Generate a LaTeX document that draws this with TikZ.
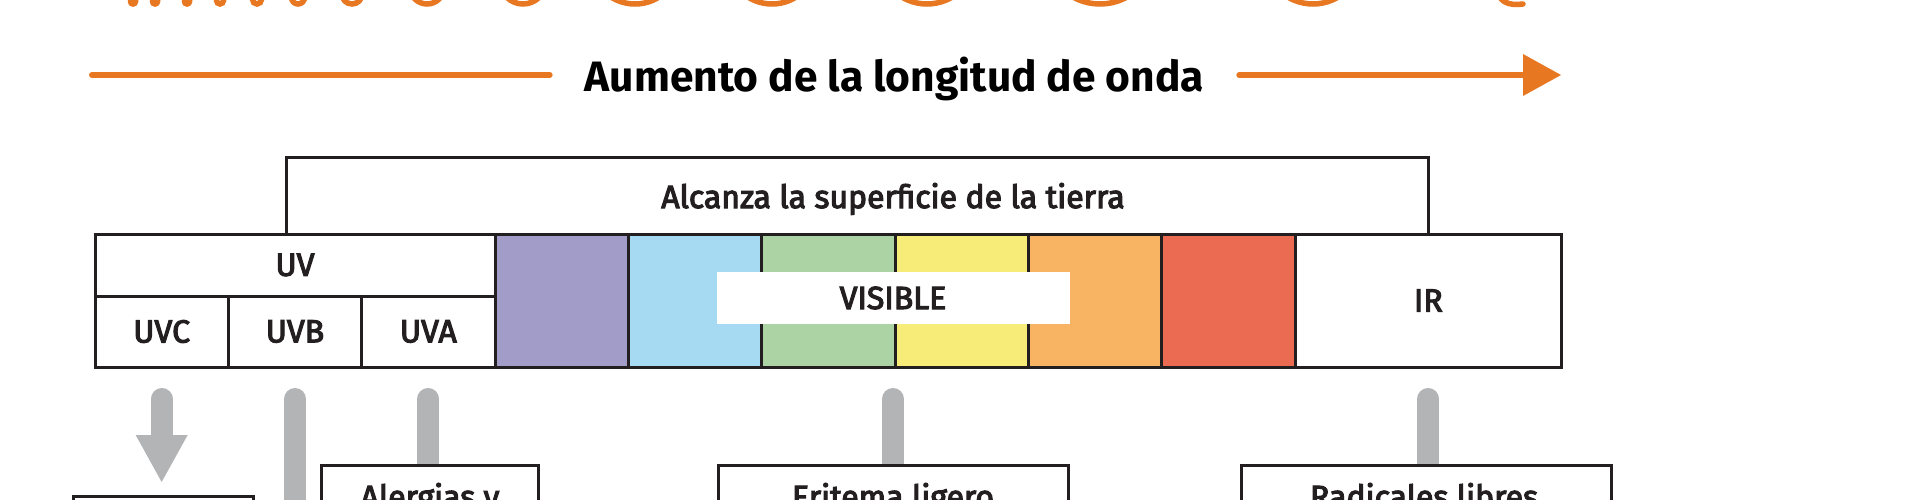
\documentclass[tikz,border=0pt]{standalone}
\usepackage{fontspec}
\setmainfont{Fira Sans}
\newfontfamily\medfont{Fira Sans}[FakeBold=3.5]
\usetikzlibrary{calc}
\definecolor{ink}{HTML}{231F20}
\definecolor{wavecol}{HTML}{E87722}
\definecolor{bargray}{HTML}{B3B4B6}
\definecolor{cviolet}{HTML}{A29CC9}
\definecolor{cblue}{HTML}{A6D9F2}
\definecolor{cgreen}{HTML}{ABD3A3}
\definecolor{cyellow}{HTML}{F8EC78}
\definecolor{corange}{HTML}{F8B363}
\definecolor{cred}{HTML}{EA6A52}
\newcommand\lblfont{\medfont\fontsize{32}{38}\selectfont}
\newcommand\titlefont{\bfseries\fontsize{42.5}{48}\selectfont}
\pgfdeclarelayer{bg}
\pgfsetlayers{bg,main}
\begin{document}
\begin{tikzpicture}[x=1pt,y=-1pt,
  cell/.style={draw=ink, line width=3pt, inner sep=0pt, outer sep=0pt, anchor=north west, font=\lblfont, text=ink},
  box/.style={draw=ink, line width=3pt, fill=white, inner sep=0pt, outer sep=0pt, anchor=north, minimum height=120pt},
  lbl/.style={font=\lblfont, text=ink, anchor=base, inner sep=0pt},
  bar/.style={draw=bargray, line width=22pt, line cap=round},
  oline/.style={draw=wavecol, line width=6pt, line cap=round},
  wave/.style={draw=wavecol, line width=5.5pt, line cap=round}]
\useasboundingbox (0,0) rectangle (1920,500);
\clip (0,0) rectangle (1920,500);

% wave
\foreach \xx/\rr in {133/2.5,155/2.5,187/2.5,220/3.5,257/4.5,298/6.5,352/10,427/17,523/23,635/45,772/45,927/49,1100/56,1313/49}{
  \draw[wave] (\xx+\rr,-30) -- (\xx+\rr,4-\rr) arc[start angle=0,end angle=180,radius=\rr] -- (\xx-\rr,-30);
}
\draw[wave] (1497,-15) .. controls (1497,2) and (1508,6) .. (1523,4);

% title arrow
\node[font=\titlefont, text=black, anchor=base, inner xsep=35pt, inner ysep=0pt] (title) at (894.5,92) {Aumento de la longitud de onda};
\coordinate (aL) at (92,75);
\coordinate (aR) at (1523,75);
\draw[oline] (aL) -- (aL -| title.west);
\draw[oline] (title.east |- aR) -- (aR);
\fill[wavecol] ($(aR)+(0,-21)$) -- ($(aR)+(38,0)$) -- ($(aR)+(0,21)$) -- cycle;

% band
\node[cell, minimum width=400pt, minimum height=62pt] (uv) at (95,234) {UV};
\node[cell, minimum width=133.33pt, minimum height=71pt] (uvc) at (95,296) {UVC};
\node[cell, minimum width=133.33pt, minimum height=71pt] (uvb) at (228.33,296) {UVB};
\node[cell, minimum width=133.33pt, minimum height=71pt] (uva) at (361.67,296) {UVA};
\node[cell, fill=cviolet, minimum width=133.33pt, minimum height=133pt] (c1) at (495,234) {};
\node[cell, fill=cblue, minimum width=133.33pt, minimum height=133pt] (c2) at (628.33,234) {};
\node[cell, fill=cgreen, minimum width=133.33pt, minimum height=133pt] (c3) at (761.67,234) {};
\node[cell, fill=cyellow, minimum width=133.33pt, minimum height=133pt] (c4) at (895,234) {};
\node[cell, fill=corange, minimum width=133.33pt, minimum height=133pt] (c5) at (1028.33,234) {};
\node[cell, fill=cred, minimum width=133.33pt, minimum height=133pt] (c6) at (1161.67,234) {};
\node[cell, minimum width=266.67pt, minimum height=133pt] (ir) at (1295,234) {IR};
\node[fill=white, inner sep=0pt, minimum width=353pt, minimum height=52pt, font=\lblfont, text=ink] (vis) at (893,298) {VISIBLE};

% reach bracket
\coordinate (bl) at (286,158);
\draw[draw=ink, line width=3pt] (bl |- uv.north) -- (bl) -- (bl -| ir.north) -- (ir.north);
\node[lbl] (reach) at (893,208) {Alcanza la superficie de la tierra};

% effect boxes
\node[box, minimum width=180pt] (uvcbox) at (163.5,496) {};
\node[box, minimum width=217pt] (alerg) at (429.5,465) {};
\node[box, minimum width=350pt] (erit) at (893,465) {};
\node[box, minimum width=370pt] (radic) at (1426,465) {};
\node[lbl] (alerglbl) at (430,508) {Alergias y};
\node[lbl] (eritlbl) at (893,508) {Eritema ligero};
\node[lbl] (radiclbl) at (1424,508) {Radicales libres};

% gray connectors
\begin{pgfonlayer}{bg}
\fill[white] (0,0) rectangle (1920,500);
\draw[bar] ($(uvc.south)+(0,32)$) -- ($(uvc.south)+(0,68)$);
\fill[bargray] ($(uvc.south)+(-26,68)$) -- ($(uvc.south)+(26,68)$) -- ($(uvc.south)+(0,115)$) -- cycle;
\draw[bar] ($(uvb.south)+(0,32)$) -- ($(uvb.south)+(0,250)$);
\draw[bar] ($(uva.south)+(0,32)$) -- (uva.south |- alerg.north);
\draw[bar] ($(erit.north |- ir.south)+(0,32)$) -- (erit.north);
\draw[bar] ($(ir.south)+(0,32)$) -- (ir.south |- radic.north);
\end{pgfonlayer}
\end{tikzpicture}
\end{document}
